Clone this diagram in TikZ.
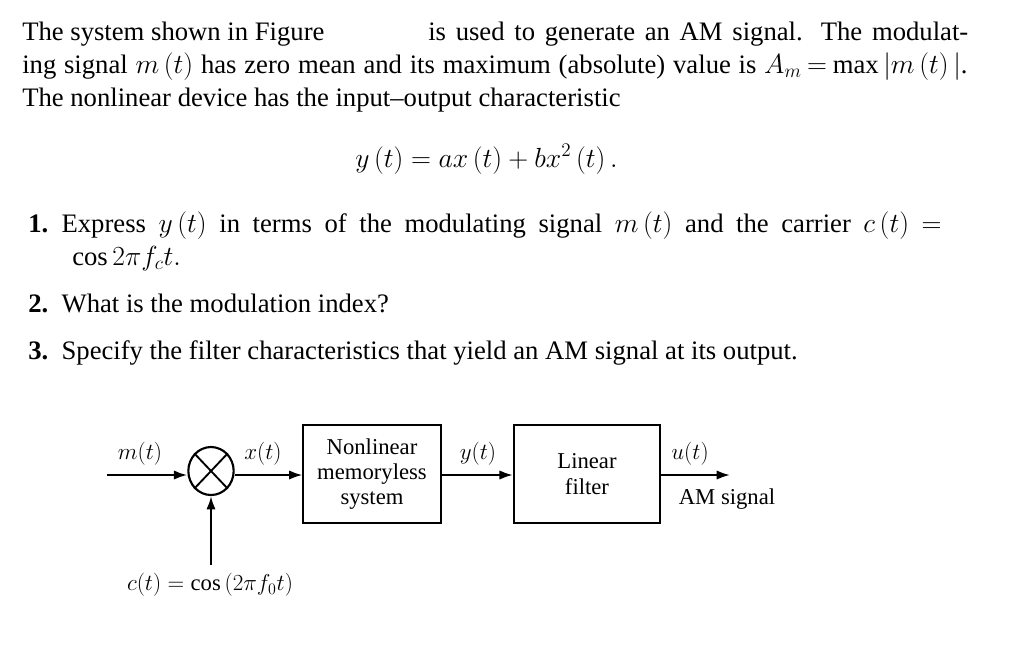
\documentclass[tikz,border=0pt]{standalone}
\usepackage{fontspec}
\setmainfont{Liberation Serif}
\usetikzlibrary{arrows.meta,shapes.geometric}
\begin{document}
\begin{tikzpicture}[x=0.75pt,y=-0.75pt,
  txt/.style={anchor=base west,inner sep=0pt,font=\fontsize{20}{24}\selectfont},
  blk/.style={draw,line width=1.3pt,minimum width=103pt,minimum height=73pt,align=center,font=\fontsize{17}{19}\selectfont},
  lbl/.style={inner sep=0pt,font=\fontsize{17}{19}\selectfont},
  sig/.style={line width=1.6pt,-{Latex[length=10pt,width=7pt]}}]
\useasboundingbox (0,0) rectangle (1024,669);
\node[txt] (l1a) at (22,40) {The system shown in Figure};
\node[txt] (l1b) at (428,40) {\hbox to 405pt{is used to generate an AM signal. The modulat-}};
\node[txt] (l2) at (22,73) {\hbox to 709pt{ing signal $m\,(t)$ has zero mean and its maximum (absolute) value is $A_m\!=\!\max|m\,(t)\,|$.}};
\node[txt] (l3) at (22,106) {The nonlinear device has the input–output characteristic};
\node[txt] (eq) at (355,167) {$y\,(t)=ax\,(t)+bx^2\,(t)\,.$};
\node[txt] (i1) at (28,232) {\textbf{1.}\ \ \hbox to 660pt{Express $y\,(t)$ in terms of the modulating signal $m\,(t)$ and the carrier $c\,(t)$ $=$}};
\node[txt] (i1b) at (72,265) {$\cos 2\pi f_c t.$};
\node[txt] (i2) at (28,312) {\textbf{2.}\ \ What is the modulation index?};
\node[txt] (i3) at (28,359) {\textbf{3.}\ \ Specify the filter characteristics that yield an AM signal at its output.};

\node[draw,line width=1.6pt,ellipse,minimum width=34pt,minimum height=36pt,inner sep=0pt] (mix) at (211,471) {};
\draw[line width=1.4pt] (mix.north west) -- (mix.south east) (mix.north east) -- (mix.south west);
\node[blk] (nl) at (372,474) {Nonlinear\\memoryless\\system};
\node[blk,minimum width=110pt] (lf) at (587,474) {Linear\\filter};
\coordinate (in) at (107,475);
\coordinate (cin) at (211,565);
\coordinate (out) at (730,475);
\draw[sig] (in) -- (in -| mix.west);
\draw[sig] (cin) -- (mix.south);
\draw[sig] (mix.east |- in) -- (in -| nl.west);
\draw[sig] (nl.east |- in) -- (in -| lf.west);
\draw[sig] (lf.east |- in) -- (out);
\node[lbl] (lm) at (140,454) {$m(t)$};
\node[lbl] (lx) at (263,454) {$x(t)$};
\node[lbl] (ly) at (478,454) {$y(t)$};
\node[lbl] (lu) at (690,454) {$u(t)$};
\node[lbl] (am) at (727,499) {AM signal};
\node[lbl] (lc) at (210,585) {$c(t)=\cos\,(2\pi f_0 t)$};
\end{tikzpicture}
\end{document}
